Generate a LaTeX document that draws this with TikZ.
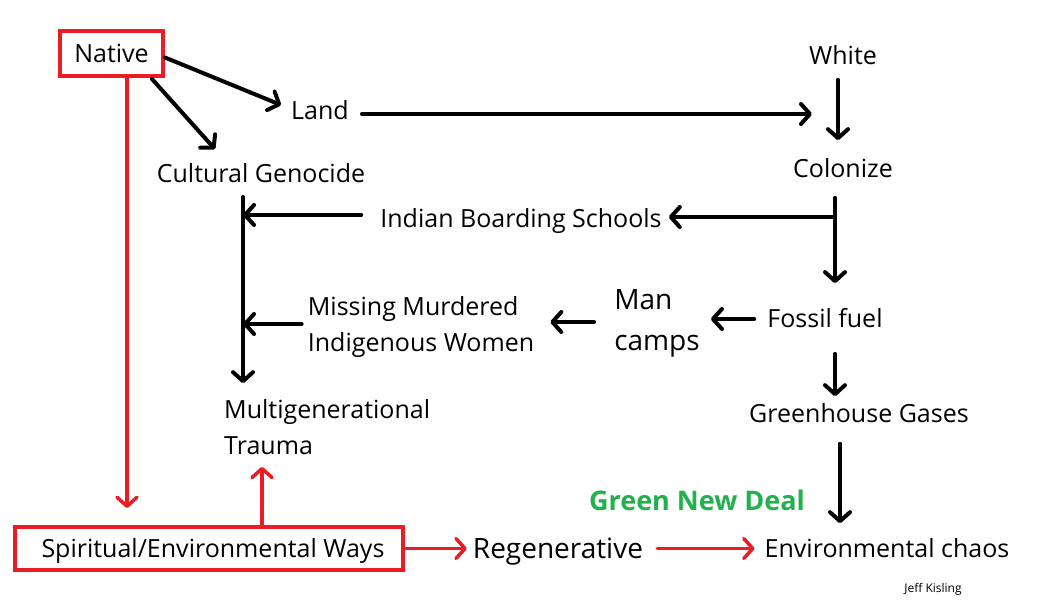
\documentclass[tikz,border=0pt]{standalone}
\usepackage{fontspec}
\setmainfont{Open Sans}
\usetikzlibrary{arrows.meta,calc}
\definecolor{pred}{RGB}{237,28,36}
\definecolor{pgreen}{RGB}{34,177,76}
\begin{document}
\begin{tikzpicture}[x=1pt,y=-1pt,
  txt/.style={inner sep=0pt,font=\fontsize{25}{36}\selectfont,align=left},
  big/.style={inner sep=0pt,font=\fontsize{28}{41}\selectfont,align=left},
  redbox/.style={draw=pred,line width=4pt,inner sep=0pt},
  blk/.style={line width=4pt,line cap=round,-{Straight Barb[length=9pt,width=20pt,round]}},
  rd/.style={draw=pred,line width=3.5pt,line cap=round,-{Straight Barb[length=9pt,width=20pt,round]}}]
\fill[white] (0,0) rectangle (1061,607);
\useasboundingbox (0,0) rectangle (1061,607);
% boxes
\node[redbox,minimum width=103pt,minimum height=45pt] (native) at (111.5,53.5) {};
\node[txt] (nativet) at (native.center) {Native};
\node[redbox,minimum width=388pt,minimum height=43pt] (sew) at (209,548.5) {};
\node[txt] (sewt) at (213,551) {Spiritual/Environmental Ways};
% text nodes
\node[txt] (land) at (320,110) {Land};
\node[txt] (cg) at (261,173) {Cultural Genocide};
\node[txt] (white) at (843,55) {White};
\node[txt] (colonize) at (843,168) {Colonize};
\node[txt] (ibs) at (521,221) {Indian Boarding Schools};
\node[txt] (fossil) at (825,318) {Fossil fuel};
\node[big] (man) at (657,323) {Man\\camps};
\node[txt] (mmiw) at (421,327) {Missing Murdered\\Indigenous Women};
\node[txt,anchor=west] (mgt) at (224,427) {Multigenerational\\Trauma};
\node[txt] (ghg) at (859,413) {Greenhouse Gases};
\node[txt,font=\fontsize{27}{30}\selectfont\bfseries,text=pgreen] (gnd) at (697,500) {Green New Deal};
\node[txt] (ec) at (887,548) {Environmental chaos};
\node[big] (regen) at (558,552) {Regenerative};
\node[inner sep=0pt,font=\fontsize{12}{14}\selectfont] (jeff) at (933,589) {Jeff Kisling};
% junction coordinates
\coordinate (landend) at (812,114);
\coordinate (cj) at (835,217);
\coordinate (vtop) at (243,197);
\coordinate (nred) at (127,76);
\coordinate (tred) at (262,527);
\coordinate (ibsl) at ($(ibs.west)+(-19,-6)$);
\coordinate (mmiwl) at ($(mmiw.west)+(-6,-3)$);
% black connectors
\draw[blk] ($(native.east)+(0,4)$) -- ($(land.west)+(-10,-5)$);
\draw[blk] ($(native.south east)+(-13,1)$) -- ($(cg.north)+(-46,-14)$);
\draw[blk] ($(land.east)+(13,4)$) -- (landend);
\draw[blk] ($(white.south)+(-5,15)$) -- ($(colonize.north)+(-5,-18)$);
\draw[blk] ($(colonize.south)+(-8,20)$) -- ($(fossil.north)+(10,-25)$);
\draw[blk] (cj) -- ($(ibs.east |- cj)+(7,0)$);
\draw[blk] (ibsl) -- (vtop |- ibsl);
\draw[blk] (vtop) -- ($(mgt.north west)+(19,-16)$);
\draw[blk] (mmiwl) -- (vtop |- mmiwl);
\draw[blk] ($(man.west)+(-20,-1)$) -- ($(mmiw.east)+(16,-5)$);
\draw[blk] ($(fossil.west)+(-13,1)$) -- ($(man.east)+(11,-4)$);
\draw[blk] ($(fossil.south)+(10,26)$) -- ($(ghg.north)+(-24,-7)$);
\draw[blk] ($(ghg.south)+(-19,21)$) -- ($(ec.north)+(-47,-15)$);
% red connectors
\draw[rd] (nred) -- ($(nred |- sew.north)+(0,-17)$);
\draw[rd] (tred) -- ($(mgt.south west)+(38,12)$);
\draw[rd] (sew.east) -- ($(regen.west |- sew.east)+(-6,0)$);
\draw[rd] ($(regen.east |- sew.east)+(14,0)$) -- ($(ec.west |- sew.east)+(-10,0)$);
\end{tikzpicture}
\end{document}
